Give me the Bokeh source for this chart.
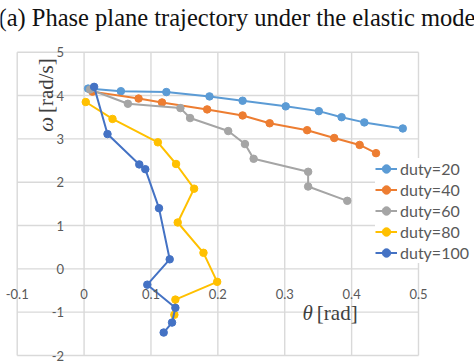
import math
from bokeh.plotting import figure
from bokeh.models import ColumnDataSource, FixedTicker, Label
from bokeh.embed import file_html
from bokeh.resources import INLINE

# ---- data ----
theta_20 = [0.006, 0.055, 0.123, 0.1875, 0.237, 0.3015, 0.351, 0.385, 0.419, 0.4765]
omega_20 = [4.16, 4.10, 4.08, 3.98, 3.88, 3.75, 3.64, 3.50, 3.38, 3.24]

theta_40 = [0.0125, 0.0815, 0.1165, 0.184, 0.237, 0.2775, 0.3335, 0.374, 0.412, 0.4365]
omega_40 = [4.09, 3.93, 3.84, 3.68, 3.54, 3.36, 3.20, 3.02, 2.86, 2.67]

theta_60 = [0.009, 0.0655, 0.144, 0.1585, 0.2155, 0.2405, 0.2535, 0.335, 0.335, 0.3935]
omega_60 = [4.14, 3.81, 3.71, 3.48, 3.18, 2.88, 2.54, 2.24, 1.90, 1.57]

theta_80 = [0.0025, 0.0425, 0.1103, 0.1375, 0.1645, 0.140, 0.1785, 0.199, 0.1365, 0.135]
omega_80 = [3.85, 3.46, 2.92, 2.42, 1.85, 1.07, 0.37, -0.30, -0.71, -1.06]

theta_100 = [0.015, 0.035, 0.0825, 0.0915, 0.112, 0.128, 0.0945, 0.1365, 0.1315, 0.119]
omega_100 = [4.20, 3.11, 2.41, 2.30, 1.40, 0.22, -0.365, -0.90, -1.24, -1.47]

series_names = ["duty=20", "duty=40", "duty=60", "duty=80", "duty=100"]
series_colors = ["#5B9BD5", "#ED7D31", "#A5A5A5", "#FFC000", "#4472C4"]

x_ticks = [-0.1, 0.0, 0.1, 0.2, 0.3, 0.4, 0.5]
x_tick_labels = ["-0.1", "0", "0.1", "0.2", "0.3", "0.4", "0.5"]
y_ticks = [-2, -1, 0, 1, 2, 3, 4, 5]
y_tick_labels = ["-2", "-1", "0", "1", "2", "3", "4", "5"]

title_text = "(a) Phase plane trajectory under the elastic mode"
x_title_sym, x_title_unit = "\u03b8", "[rad]"
y_title_sym, y_title_unit = "\u03c9", "[rad/s]"

x_min, x_max = x_ticks[0], x_ticks[-1]
y_min, y_max = y_ticks[0], y_ticks[-1]

# ---- layout: the frame fills the whole canvas; the plot area
# (x_min..x_max, y_min..y_max) sits at px 16.7..418 x 51.7..355 ----
W, H = 474, 362
left_px, right_px, top_px, bottom_px = 16.7, 418.0, 51.7, 355.0
kx = (right_px - left_px) / (x_max - x_min)
ky = (bottom_px - top_px) / (y_max - y_min)
x_range = (x_min - left_px / kx, x_max + (W - right_px) / kx)
y_range = (y_min - (H - bottom_px) / ky, y_max + top_px / ky)

p = figure(width=W, height=H, x_range=x_range, y_range=y_range,
           output_backend="svg", toolbar_location=None,
           min_border_left=0, min_border_right=0, min_border_top=0,
           min_border_bottom=0)
p.outline_line_color = None
p.background_fill_color = "white"
p.border_fill_color = "white"
p.xgrid.grid_line_color = None
p.ygrid.grid_line_color = None

# gridlines of the plot area, drawn from the tick arrays
grid_color = "#D9D9D9"
p.segment(x0=x_ticks, y0=[y_min] * len(x_ticks), x1=x_ticks, y1=[y_max] * len(x_ticks),
          line_color=grid_color, line_width=1.4)
p.segment(x0=[x_min] * len(y_ticks), y0=y_ticks, x1=[x_max] * len(y_ticks), y1=y_ticks,
          line_color=grid_color, line_width=1.4)

for ax, ticks, labels in ((p.xaxis[0], x_ticks, x_tick_labels),
                          (p.yaxis[0], y_ticks, y_tick_labels)):
    ax.ticker = FixedTicker(ticks=ticks)
    ax.major_label_overrides = {tk: lb for tk, lb in zip(ticks, labels)}
    ax.fixed_location = 0
    ax.axis_line_color = None
    ax.major_tick_line_color = None
    ax.minor_tick_line_color = None
    ax.major_label_text_font = "Lato"
    ax.major_label_text_font_size = "13px"
    ax.major_label_text_color = "#595959"
p.xaxis[0].major_label_standoff = 14
p.yaxis[0].major_label_standoff = 14

xs = [theta_20, theta_40, theta_60, theta_80, theta_100]
ys = [omega_20, omega_40, omega_60, omega_80, omega_100]
for name, color, xv, yv in zip(series_names, series_colors, xs, ys):
    src = ColumnDataSource(dict(x=xv, y=yv))
    p.line("x", "y", source=src, line_color=color, line_width=2, legend_label=name)
    p.scatter("x", "y", source=src, size=7.5, fill_color=color, line_color=color,
              legend_label=name)

lg = p.legend[0]
lg.location = (375, 99)
lg.border_line_color = None
lg.background_fill_color = "white"
lg.background_fill_alpha = 1.0
lg.padding = 0
lg.margin = 0
lg.spacing = 0
lg.glyph_width = 22
lg.glyph_height = 21
lg.label_height = 21
lg.label_standoff = 3
lg.label_text_font = "Lato"
lg.label_text_font_size = "16px"
lg.label_text_color = "#595959"

# chart title at the top of the canvas
p.add_layout(Label(x=-2, y=H - 17, x_units="screen", y_units="screen",
                   text=title_text, text_font="Liberation Serif",
                   text_font_size="24.5px", text_color="#111111",
                   text_align="left", text_baseline="alphabetic"))

title_color = "#404040"
# x-axis title: italic symbol + upright unit
p.add_layout(Label(x=0.345, y=-1.03, x_offset=-2, text=x_title_sym,
                   text_font="Liberation Serif", text_font_style="italic",
                   text_font_size="21px", text_color=title_color,
                   text_align="right", text_baseline="middle"))
p.add_layout(Label(x=0.345, y=-1.03, x_offset=2, text=x_title_unit,
                   text_font="Liberation Serif", text_font_size="21px",
                   text_color=title_color, text_align="left", text_baseline="middle"))
# y-axis title, rotated
p.add_layout(Label(x=-0.057, y=3.55, y_offset=-2, text=y_title_sym,
                   text_font="Liberation Serif", text_font_style="italic",
                   text_font_size="21px", text_color=title_color, angle=math.pi / 2,
                   text_align="right", text_baseline="middle"))
p.add_layout(Label(x=-0.057, y=3.55, y_offset=2, text=y_title_unit,
                   text_font="Liberation Serif", text_font_size="21px",
                   text_color=title_color, angle=math.pi / 2,
                   text_align="left", text_baseline="middle"))

open("out.html", "w").write(file_html(p, INLINE))
